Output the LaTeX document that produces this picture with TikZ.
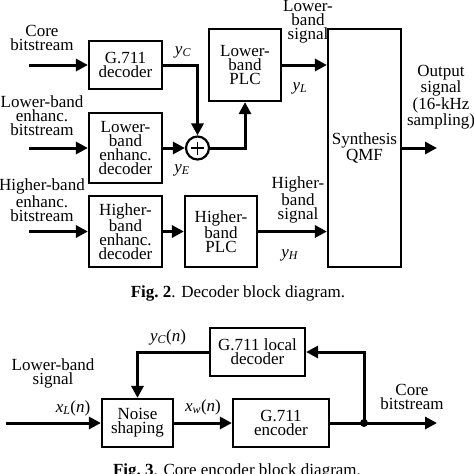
\documentclass[tikz,border=0pt]{standalone}
\usepackage{fontspec}
\setmainfont{Liberation Serif}
\usetikzlibrary{arrows.meta,calc}
\newcommand{\blockfont}{\fontsize{17}{14}\selectfont}
\newcommand{\sig}[2]{\textit{#1}\textsubscript{\textit{#2}}}
\begin{document}
\begin{tikzpicture}[x=1pt,y=-1pt,
  every node/.style={font=\blockfont,align=center,inner sep=0pt},
  block/.style={draw,line width=2.2pt,fill=white},
  wire/.style={line width=3pt},
  sigarrow/.style={wire,-{Triangle[length=12pt,width=12pt]}},
  adder/.style={draw,circle,line width=2.2pt,minimum size=23pt,fill=white,
    path picture={\draw[line width=1.6pt]
      ([xshift=-6.5pt]path picture bounding box.center) -- ([xshift=6.5pt]path picture bounding box.center)
      ([yshift=-6.5pt]path picture bounding box.center) -- ([yshift=6.5pt]path picture bounding box.center);}}]
\useasboundingbox (0,0) rectangle (474,474);
% Drawing decoder blocks
\node[block,minimum width=73pt,minimum height=48pt] (g711dec) at (125.5,65) {G.711\\decoder};
\node[block,minimum width=73pt,minimum height=70pt] (lbdec) at (125.5,148) {Lower-\\band\\enhanc.\\decoder};
\node[block,minimum width=73pt,minimum height=71pt] (hbdec) at (125.5,231.5) {Higher-\\band\\enhanc.\\decoder};
\node[block,minimum width=72pt,minimum height=71pt] (hbplc) at (221,231.5) {Higher-\\band\\PLC};
\node[block,minimum width=72pt,minimum height=72pt] (lbplc) at (245,65) {Lower-\\band\\PLC};
\node[adder] (sum) at (197.5,148) {};
% Lower-band signal text sits under the QMF edge
\node (lbsig) at (308,21.5) {Lower-\\band\\signal};
\node[block,minimum width=73pt,minimum height=238pt] (qmf) at (364.5,148) {Synthesis\\QMF};
% Decoder inputs and texts
\coordinate (corein) at (29,65);
\coordinate (lbin) at (29,148);
\coordinate (hbin) at (29,231.5);
\coordinate (decout) at (437,148);
\node (coretxt) at (42,38) {Core\\bitstream};
\node (lbtxt) at (42,116) {Lower-band\\enhanc.\\bitstream};
\node (hbtxt) at (42,200) {Higher-band\\enhanc.\\bitstream};
\node (hbsig) at (298,200) {Higher-\\band\\signal};
\node (outtxt) at (441,97) {Output\\signal\\(16-kHz\\sampling)};
\node (yc) at (183,52) {\sig{y}{C}};
\node (ye) at (182,170) {\sig{y}{E}};
\node (yl) at (300,88) {\sig{y}{L}};
\node (yh) at (290,255) {\sig{y}{H}};
% Decoder connectors
\draw[sigarrow] (corein) -- (g711dec.west);
\draw[sigarrow] (lbin) -- (lbdec.west);
\draw[sigarrow] (hbin) -- (hbdec.west);
\draw[sigarrow] (g711dec.east) -| (sum.north);
\draw[sigarrow] (lbdec.east) -- (sum.west);
\draw[sigarrow] (sum.east) -| (lbplc.south);
\draw[sigarrow] (lbplc.east) -- (lbplc.east -| qmf.west);
\draw[sigarrow] (hbdec.east) -- (hbplc.west);
\draw[sigarrow] (hbplc.east) -- (hbplc.east -| qmf.west);
\draw[sigarrow] (qmf.east) -- (decout);
\node (cap2) at (238,293) {\textbf{Fig.~2}. Decoder block diagram.};
% Drawing encoder blocks
\node[block,minimum width=95pt,minimum height=48pt] (localdec) at (257.5,352) {G.711 local\\decoder};
\node[block,minimum width=71pt,minimum height=48pt] (noise) at (137.5,423) {Noise\\shaping};
\node[block,minimum width=96pt,minimum height=48pt] (g711enc) at (281,423) {G.711\\encoder};
\coordinate (xin) at (6,423);
\coordinate (coreout) at (437,423);
\coordinate (tap) at (364,423);
\node (lbsigtxt) at (53,373) {Lower-band\\signal};
\node (xl) at (73,408) {\sig{x}{L}(\textit{n})};
\node (xw) at (203,407) {\sig{x}{w}(\textit{n})};
\node (ycn) at (168,337) {\sig{y}{C}(\textit{n})};
\node (coretxt2) at (412,397) {Core\\bitstream};
% Encoder connectors
\draw[sigarrow] (xin) -- (noise.west);
\draw[sigarrow] (noise.east) -- (g711enc.west);
\draw[sigarrow] (g711enc.east) -- (coreout);
\draw[sigarrow] (tap) |- (localdec.east);
\draw[sigarrow] (localdec.west) -| (noise.north);
\fill (tap) circle (4pt);
\node (cap3) at (237,471) {\textbf{Fig.~3}. Core encoder block diagram.};
\end{tikzpicture}
\end{document}
